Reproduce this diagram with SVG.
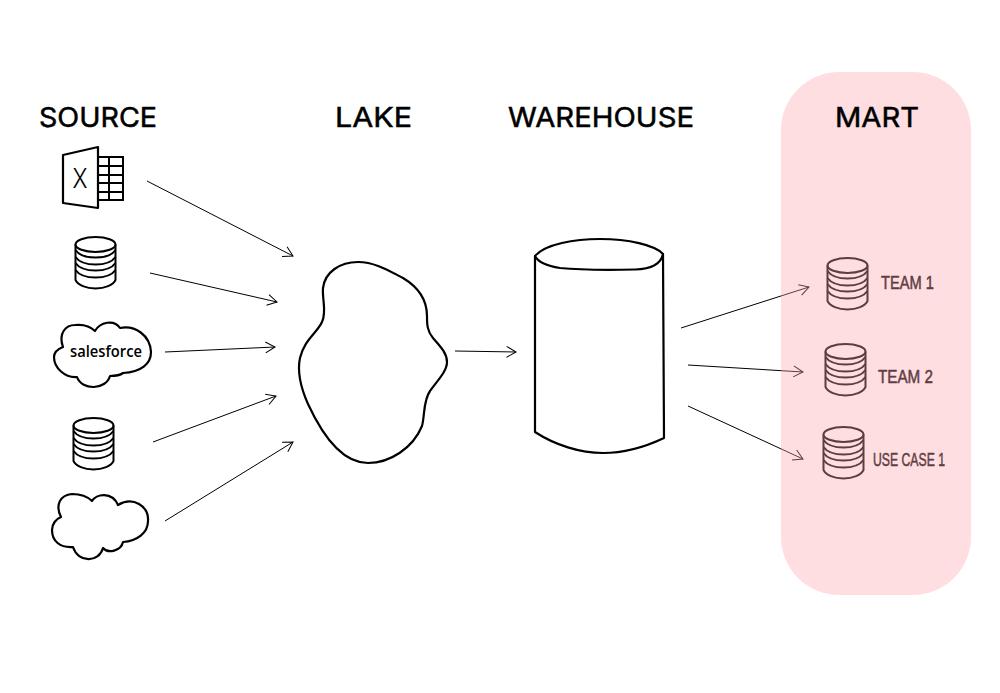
<svg xmlns="http://www.w3.org/2000/svg" width="1000" height="693" viewBox="0 0 1000 693">
<style>
.h{font-family:"Inter","Liberation Sans",sans-serif;font-size:27px;font-weight:400;fill:#000;stroke:#000;stroke-width:.5}
.t{font-family:"Liberation Sans",Arial,sans-serif;font-size:19px;font-weight:400;fill:#000;stroke:#000;stroke-width:.55}
.s{fill:none;stroke:#000;stroke-width:2.2;stroke-linejoin:round;stroke-linecap:round}
.c{fill:none;stroke:#000;stroke-width:1;marker-end:url(#a)}
</style>
<defs>
<marker id="a" markerUnits="userSpaceOnUse" markerWidth="16" markerHeight="16" refX="12" refY="8" orient="auto" overflow="visible">
<path d="M2.500 2.500L12 8L2.500 13.500" fill="none" stroke="#000" stroke-width="1"/>
</marker>
<g id="db" fill="none" stroke="#000" stroke-width="2" stroke-linejoin="round">
<ellipse cx="20.500" cy="8.500" rx="20" ry="7.500"/>
<path d="M.5 8.500V44C3 49 11 52.500 20.500 52.500C30 52.500 38 49 40.500 44V8.500"/>
<path d="M.5 14C4 19 11 21.500 20.500 21.500C30 21.500 37 19 40.500 14"/>
<path d="M.5 21C4 26 11 28.500 20.500 28.500C30 28.500 37 26 40.500 21"/>
<path d="M.5 27C4 32 11 34.500 20.500 34.500C30 34.500 37 32 40.500 27"/>
<path d="M.5 34C4 39 11 41.500 20.500 41.500C30 41.500 37 39 40.500 34"/>
</g>
</defs>
<rect width="1000" height="693" fill="#fff"/>
<g id="connectors">
<path class="c" d="M147 181L293 256"/>
<path class="c" d="M150 273L277 302"/>
<path class="c" d="M165 352L275 347"/>
<path class="c" d="M153 442L276 396"/>
<path class="c" d="M165 521L293 442"/>
<path class="c" d="M455 351L516 352"/>
<path class="c" d="M681 328L809 287"/>
<path class="c" d="M688 365L803 372"/>
<path class="c" d="M688 406L803 459"/>
</g>
<g id="source-heading"><text class="h" x="39" y="127" textLength="118" lengthAdjust="spacingAndGlyphs">SOURCE</text></g>
<g id="excel">
<path class="s" d="M63 155L98 147V208L63 203Z"/>
<text x="80" y="188" text-anchor="middle" font-family="Inter,'Liberation Sans',sans-serif" font-size="27" font-weight="300" fill="#000" textLength="15" lengthAdjust="spacingAndGlyphs">X</text>
<path fill="none" stroke="#000" stroke-width="2" d="M98 157H123V200H98M109 157V200M98 166H123M98 175H123M98 183H123M98 192H123"/>
</g>
<g id="source-db-1"><use href="#db" x="75" y="236"/></g>
<g id="salesforce">
<path class="s" d="M63 347C58 333 66 325 75 325C84 324 91 327 95 331C100 322 114 319 120 328C135 325 150 335 151 352C151 364 141 372 123 373C119 376 114 376 110 376C106 390 82 391 77 377C65 378 54 368 54 357C54 352 58 349 63 347Z"/>
<text x="106" y="357" text-anchor="middle" font-family="'Open Sans','Liberation Sans',sans-serif" font-size="15.500" font-weight="600" fill="#000" textLength="72" lengthAdjust="spacingAndGlyphs">salesforce</text>
</g>
<g id="source-db-2"><use href="#db" x="73" y="417"/></g>
<g id="cloud">
<path class="s" d="M61 517C55 505 60 495 72 494C81 494 88 497 92 501C96 494 112 491 118 505C133 496 149 506 148 521C148 533 137 541 123 542C121 551 108 554 103 548C99 563 78 563 73 547C60 548 52 541 52 530C52 524 56 519 61 517Z"/>
</g>
<g id="lake-heading"><text class="h" x="335" y="127" textLength="77" lengthAdjust="spacingAndGlyphs">LAKE</text></g>
<g id="lake">
<path class="s" d="M358 262C376 262 391 272 403 278C418 287 427 300 427 316C427 324 427 331 433 338C440 346 447 353 447 362C447 372 436 382 430 391C423 401 425 415 422 426C413 448 390 463 368 463C340 463 320 430 308 404C300 386 297 372 300 358C304 340 317 333 322 322C327 311 322 300 323 288C325 272 340 262 358 262Z"/>
</g>
<g id="warehouse-heading"><text class="h" x="508" y="127" textLength="186" lengthAdjust="spacingAndGlyphs">WAREHOUSE</text></g>
<g id="warehouse">
<path class="s" d="M535 256C545 244 575 239 600 239C628 239 655 245 663 254C661 264 650 269 635 269.500C610 270 580 270 560 268C547 266 538 262 535 256Z"/>
<path class="s" d="M535 256L535 432C555 445 580 453 603 453C625 453 645 447 664 438L663 254"/>
</g>
<g id="team-1"><use href="#db" x="827" y="257"/><text class="t" x="881" y="289" textLength="53" lengthAdjust="spacingAndGlyphs">TEAM 1</text></g>
<g id="team-2"><use href="#db" x="825" y="343"/><text class="t" x="878" y="383" textLength="55" lengthAdjust="spacingAndGlyphs">TEAM 2</text></g>
<g id="use-case-1"><use href="#db" x="823" y="426"/><text class="t" x="873" y="466" textLength="72" lengthAdjust="spacingAndGlyphs">USE CASE 1</text></g>
<g id="mart">
<rect x="781" y="72" width="190" height="523" rx="58" fill="#ffa5af" fill-opacity=".37"/>
<text class="h" x="835" y="127" textLength="84" lengthAdjust="spacingAndGlyphs">MART</text>
</g>
</svg>
